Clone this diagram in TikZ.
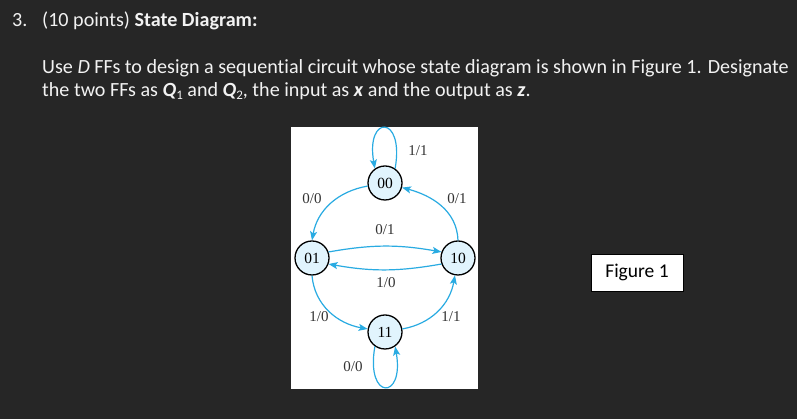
\documentclass[tikz,border=0pt]{standalone}
\usepackage{fontspec}
\setmainfont{Carlito}[Ligatures=NoCommon]
\newfontfamily\diagfont{Liberation Serif}
\usetikzlibrary{arrows.meta}
\definecolor{bg}{HTML}{262626}
\definecolor{txt}{HTML}{F2F2F2}
\definecolor{edgec}{HTML}{29ABE2}
\definecolor{sfill}{HTML}{E1F4FD}
\newcommand\subdig[1]{\raisebox{-0.3ex}{\fontsize{13}{13}\selectfont #1}}
\tikzset{
  para/.style={text=txt,inner sep=0pt,anchor=base west,font=\fontsize{20.1}{23}\selectfont},
  state/.style={circle,draw=black,line width=1.3pt,fill=sfill,minimum size=34pt,inner sep=0pt,font=\diagfont\fontsize{15.5}{15.5}\selectfont},
  tr/.style={draw=edgec,line width=1.2pt,-{Stealth[length=9pt,width=7pt,inset=2pt]}},
  lbl/.style={font=\diagfont\fontsize{15}{15}\selectfont,text=black!80,inner sep=0pt}
}
\begin{document}
\begin{tikzpicture}[x=1pt,y=1pt]
\fill[bg] (0,0) rectangle (797,419);
\useasboundingbox (0,0) rectangle (797,419);
% text
\node[para] (num) at (12,392.5) {3.};
\node[para] (title) at (42,392.5) {(10 points) \textbf{State Diagram:}};
\node[para] (l2) at (42,345.7) {Use \textit{D} FFs to design a sequential circuit whose state diagram is shown in Figure 1. Designate};
\node[para] (l3) at (42,322.3) {the two FFs as \textbf{\textit{Q}}\subdig{1} and \textbf{\textit{Q}}\subdig{2}, the input as \textbf{\textit{x}} and the output as \textbf{\textit{z}}.};
% figure panel
\node[fill=white,draw=none,minimum width=187pt,minimum height=262pt,inner sep=0pt] (panel) at (384.5,161) {};
% states
\node[state] (A) at (385,236) {00};
\node[state] (B) at (312,161) {01};
\node[state] (C) at (458,161) {10};
\node[state] (D) at (385,87) {11};
% transitions
\draw[tr] (A.55) .. controls +(80:55) and +(100:55) .. (A.125);
\draw[tr] (A.190) to[out=190,in=80] (B.north);
\draw[tr] (C.north) to[out=92,in=-15] (A.-15);
\draw[tr] (B.20) to[bend left=10] (C.160);
\draw[tr] (C.200) to[bend left=10] (B.-20);
\draw[tr] (B.south) to[out=-85,in=170] (D.170);
\draw[tr] (D.10) to[out=10,in=-100] (C.-100);
\draw[tr] (D.235) .. controls +(260:55) and +(280:55) .. (D.-55);
% labels
\node[lbl] (l11t) at (418,268) {1/1};
\node[lbl] (l00l) at (312,220) {0/0};
\node[lbl] (l01r) at (457,220) {0/1};
\node[lbl] (l01m) at (385,189) {0/1};
\node[lbl] (l10m) at (386,136) {1/0};
\node[lbl] (l10l) at (319,102) {1/0};
\node[lbl] (l11r) at (451,102) {1/1};
\node[lbl] (l00b) at (353,52) {0/0};
% figure caption box
\node[fill=white,draw=black,line width=0.8pt,minimum width=92pt,minimum height=37pt,inner sep=0pt,font=\fontsize{19.5}{19.5}\selectfont] (fig) at (637,146.5) {Figure 1};
\end{tikzpicture}
\end{document}
